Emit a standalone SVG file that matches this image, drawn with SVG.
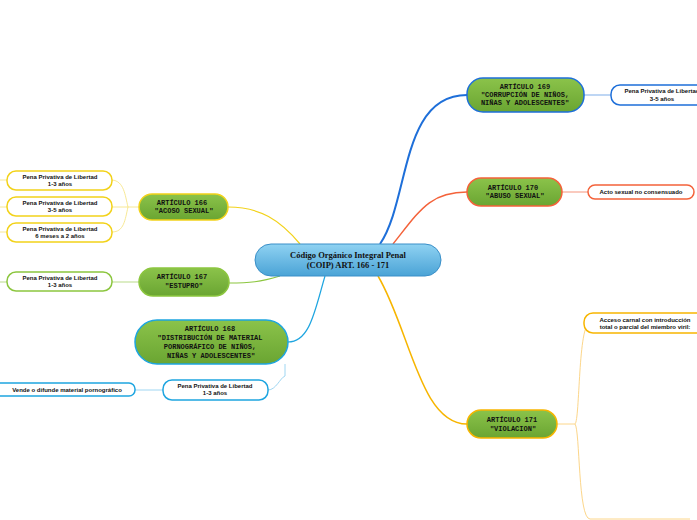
<svg xmlns="http://www.w3.org/2000/svg" width="697" height="520" viewBox="0 0 697 520">
<defs>
<linearGradient id="gc" x1="0" y1="0" x2="0" y2="1"><stop offset="0" stop-color="#8fd2f2"/><stop offset="1" stop-color="#4aa3d6"/></linearGradient>
<linearGradient id="gg" x1="0" y1="0" x2="0" y2="1"><stop offset="0" stop-color="#8bc34a"/><stop offset="1" stop-color="#6aa532"/></linearGradient>
<style>
.art{fill:url(#gg);stroke-width:1.5}
.leaf{fill:#fff;stroke-width:1.5}
.at{font-family:"Liberation Mono",monospace;font-weight:bold;font-size:7px;fill:#111;text-anchor:middle}
.lt{font-family:"Liberation Sans",sans-serif;font-weight:bold;font-size:6px;fill:#111;text-anchor:middle}
.c{fill:none}
</style>
</defs>
<rect width="697" height="520" fill="#fff"/>
<g id="connectors" class="c">
<path d="M380 244 C410 200 400 95 467 95" stroke="#1e6fd9" stroke-width="2"/>
<path d="M393 244 C420 210 430 192 467 192" stroke="#f4623a" stroke-width="1.5"/>
<path d="M378 276 C410 330 420 424 467 424" stroke="#f7b500" stroke-width="1.5"/>
<path d="M300 244 C280 220 260 207 228 207" stroke="#f2d21a" stroke-width="1.2"/>
<path d="M280 276 C260 282 250 283 229 283" stroke="#8cc63f" stroke-width="1.2"/>
<path d="M325 276 C315 310 310 342 288 342" stroke="#1ea5e0" stroke-width="1.2"/>
<path d="M584 95 L611 95" stroke="#a8c8f0" stroke-width="1.5"/>
<path d="M562 192 L588 192" stroke="#f8b8a8" stroke-width="1.5"/>
<path d="M139 207 L128 207 M128 207 C125 195 124 181 112 180 M128 207 L112 207 M128 207 C125 220 124 232 112 232 M112 180 L0 180 M112 207 L0 207 M112 232 L0 232" stroke="#f5e27a" stroke-width="0.8"/>
<path d="M139 282 L112 282 M7 282 L0 282" stroke="#b9dc8a" stroke-width="1.2"/>
<path d="M285 364 L285 376 C280 378 276 390 268 390 M163 390 L135 390" stroke="#9fd6f2" stroke-width="1"/>
<path d="M557 424 L575 424 C580 420 578 323 590 323 M575 424 C580 430 578 519 590 519 L690 519" stroke="#fcd68a" stroke-width="1"/>
</g>
<g id="central">
<rect x="255" y="244" width="186" height="32" rx="16" fill="url(#gc)" stroke="#3a8fc8" stroke-width="1"/>
<text x="348" y="258" text-anchor="middle" font-family="Liberation Serif,serif" font-weight="bold" font-size="8.5" fill="#111">Código Orgánico Integral Penal</text>
<text x="348" y="268" text-anchor="middle" font-family="Liberation Serif,serif" font-weight="bold" font-size="8.5" fill="#111">(COIP) ART. 166 - 171</text>
</g>
<g id="art169"><rect class="art" x="467" y="78" width="117" height="34" rx="16" stroke="#1e6fd9"/>
<text class="at" x="525" y="89" font-size="6.5">ARTÍCULO 169</text><text class="at" x="525" y="97" font-size="6.5">"CORRUPCIÓN DE NIÑOS,</text><text class="at" x="525" y="105" font-size="6.5">NIÑAS Y ADOLESCENTES"</text></g>
<g id="art170"><rect class="art" x="467" y="178" width="95" height="28" rx="14" stroke="#f4623a"/>
<text class="at" x="513" y="190">ARTÍCULO 170</text><text class="at" x="515" y="198">"ABUSO SEXUAL"</text></g>
<g id="art171"><rect class="art" x="467" y="410" width="90" height="28" rx="14" stroke="#f7b500"/>
<text class="at" x="512" y="422">ARTÍCULO 171</text><text class="at" x="513" y="431">"VIOLACION"</text></g>
<g id="art166"><rect class="art" x="139" y="194" width="89" height="26" rx="13" stroke="#f2d21a"/>
<text class="at" x="182" y="205" font-size="6.5">ARTÍCULO 166</text><text class="at" x="184" y="213" font-size="6.5">"ACOSO SEXUAL"</text></g>
<g id="art167"><rect class="art" x="139" y="268" width="90" height="28" rx="14" stroke="#8cc63f"/>
<text class="at" x="182" y="279">ARTÍCULO 167</text><text class="at" x="184" y="288">"ESTUPRO"</text></g>
<g id="art168"><rect class="art" x="135" y="320" width="153" height="44" rx="22" stroke="#1ea5e0"/>
<text class="at" x="210" y="331">ARTÍCULO 168</text><text class="at" x="210" y="340">"DISTRIBUCIÓN DE MATERIAL</text><text class="at" x="210" y="349">PORNOGRÁFICO DE NIÑOS,</text><text class="at" x="211" y="358">NIÑAS Y ADOLESCENTES"</text></g>
<g id="l166a"><rect class="leaf" x="7" y="171" width="105" height="19" rx="9" stroke="#f2d21a"/><text class="lt" x="60" y="179">Pena Privativa de Libertad</text><text class="lt" x="60" y="186">1-3 años</text></g>
<g id="l166b"><rect class="leaf" x="7" y="197" width="105" height="19" rx="9" stroke="#f2d21a"/><text class="lt" x="60" y="205">Pena Privativa de Libertad</text><text class="lt" x="60" y="212">3-5 años</text></g>
<g id="l166c"><rect class="leaf" x="7" y="223" width="105" height="19" rx="9" stroke="#f2d21a"/><text class="lt" x="60" y="231">Pena Privativa de Libertad</text><text class="lt" x="60" y="238">6 meses a 2 años</text></g>
<g id="l167"><rect class="leaf" x="7" y="272" width="105" height="19" rx="9" stroke="#8cc63f"/><text class="lt" x="60" y="280">Pena Privativa de Libertad</text><text class="lt" x="60" y="287">1-3 años</text></g>
<g id="l168"><rect class="leaf" x="163" y="380" width="105" height="20" rx="9" stroke="#1ea5e0"/><text class="lt" x="215" y="388">Pena Privativa de Libertad</text><text class="lt" x="215" y="395">1-3 años</text></g>
<g id="l168b"><rect class="leaf" x="-5" y="383" width="140" height="13" rx="6" stroke="#1ea5e0"/><text class="lt" x="67" y="391.5">Vende o difunde material pornográfico</text></g>
<g id="l169"><rect class="leaf" x="611" y="85" width="100" height="20" rx="9" stroke="#1e6fd9"/><text class="lt" x="662" y="93">Pena Privativa de Libertad</text><text class="lt" x="662" y="101">3-5 años</text></g>
<g id="l170"><rect class="leaf" x="588" y="185" width="106" height="14" rx="7" stroke="#f4623a"/><text class="lt" x="641" y="194">Acto sexual no consensuado</text></g>
<g id="l171"><rect class="leaf" x="584" y="313" width="126" height="20" rx="9" stroke="#f7b500"/><text class="lt" x="645" y="322">Acceso carnal con introducción</text><text class="lt" x="645" y="329">total o parcial del miembro viril:</text></g>
</svg>
